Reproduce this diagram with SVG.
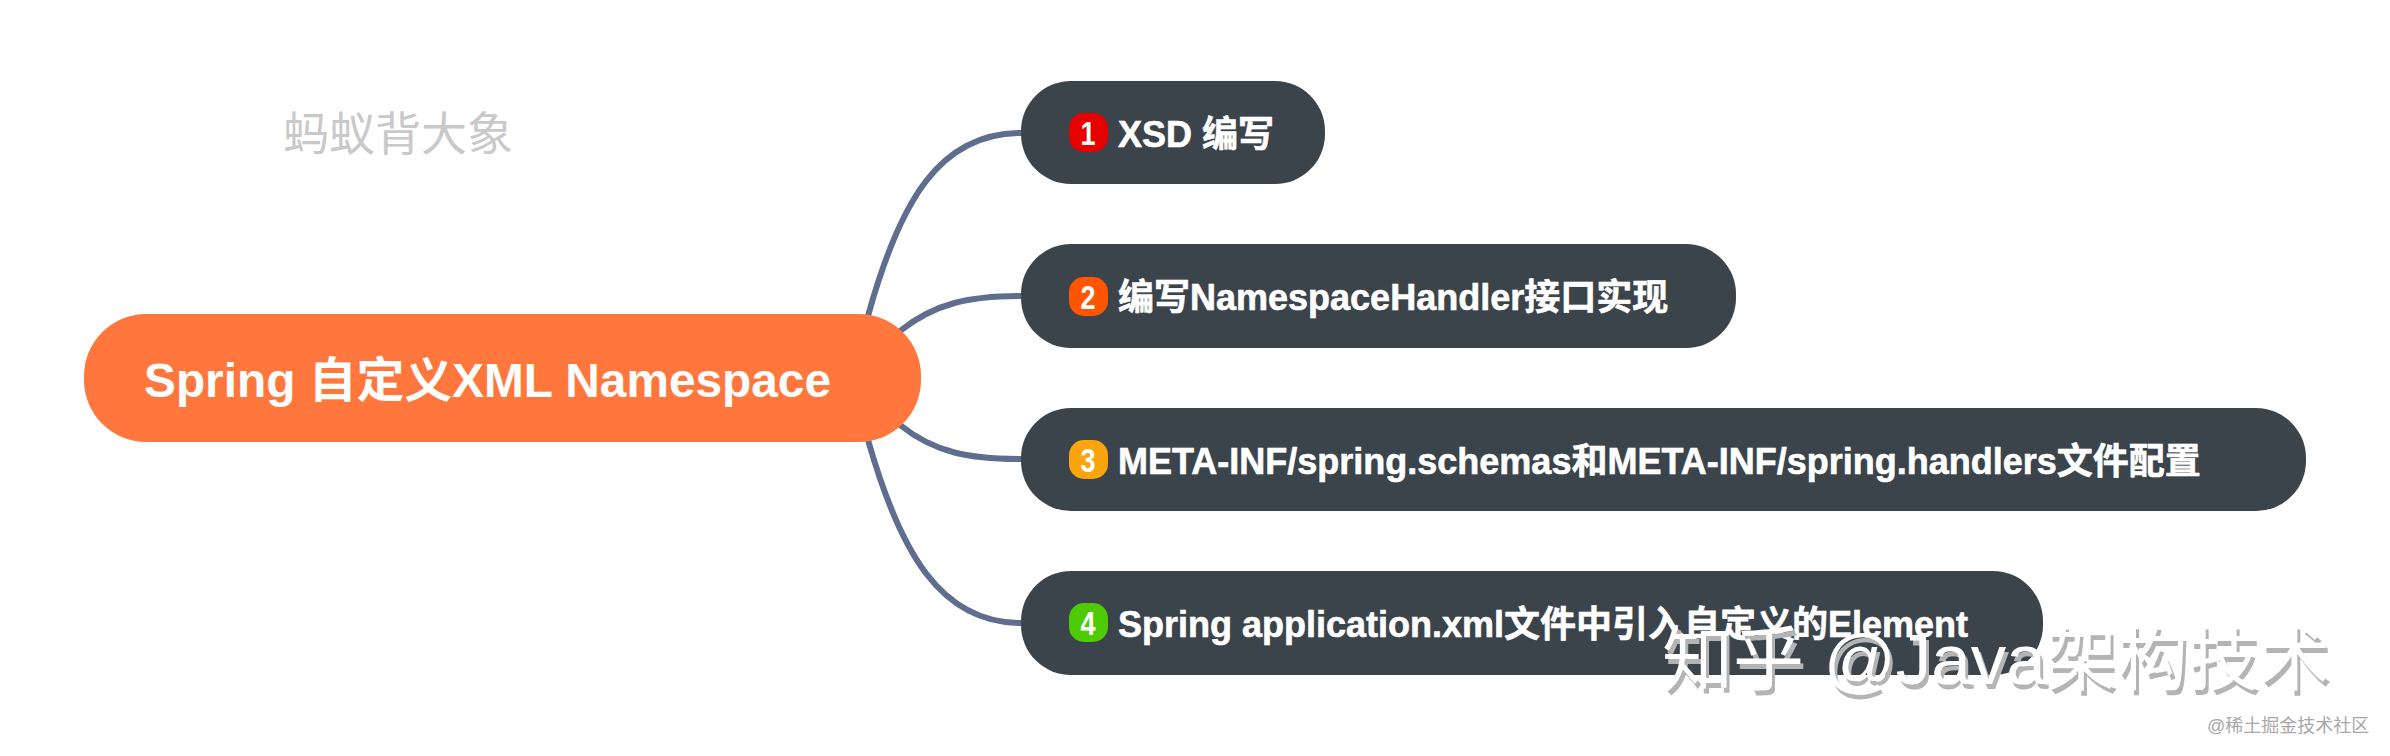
<svg xmlns="http://www.w3.org/2000/svg" width="2390" height="756" viewBox="0 0 2390 756">
<defs>
<style>
text{font-family:"Liberation Sans","Noto Sans CJK SC",sans-serif}
.c{fill:none;stroke:#5f6d8e;stroke-width:6;stroke-linecap:round}
.n{fill:#3b444b}
.t{fill:#fff;font-size:36px;font-weight:700;stroke:#fff;stroke-width:.6}
.b{fill:#fff;font-size:34px;font-weight:700;text-anchor:middle}
.w{font-size:71px}
</style>
</defs>
<rect width="2390" height="756" fill="#fff"/>
<g id="connectors">
<path class="c" d="M868 316C900 200 940 133 1021 133"/>
<path class="c" d="M900 331C935 303 970 296 1021 296"/>
<path class="c" d="M900 425C935 453 970 459 1021 459"/>
<path class="c" d="M868 440C900 552 940 623 1021 623"/>
</g>
<g id="root">
<rect x="84" y="314" width="837" height="128" rx="62" fill="#ff773d"/>
<text x="144" y="397" fill="#fff" font-size="47.8" font-weight="700">Spring 自定义XML Namespace</text>
</g>
<g id="node1">
<rect class="n" x="1021" y="81" width="304" height="103" rx="50"/>
<rect x="1069" y="113" width="39" height="39" rx="15" fill="#e60000"/>
<text class="b" x="1088" y="145" textLength="15" lengthAdjust="spacingAndGlyphs">1</text>
<text class="t" x="1118" y="147">XSD 编写</text>
</g>
<g id="node2">
<rect class="n" x="1021" y="244" width="715" height="104" rx="50"/>
<rect x="1069" y="277" width="39" height="39" rx="15" fill="#ff5500"/>
<text class="b" x="1088" y="309" textLength="15" lengthAdjust="spacingAndGlyphs">2</text>
<text class="t" x="1118" y="310">编写NamespaceHandler接口实现</text>
</g>
<g id="node3">
<rect class="n" x="1021" y="408" width="1285" height="103" rx="50"/>
<rect x="1069" y="440" width="39" height="39" rx="15" fill="#fba40e"/>
<text class="b" x="1088" y="472" textLength="15" lengthAdjust="spacingAndGlyphs">3</text>
<text class="t" x="1118" y="474">META-INF/spring.schemas和META-INF/spring.handlers文件配置</text>
</g>
<g id="node4">
<rect class="n" x="1021" y="571" width="1022" height="104" rx="50"/>
<rect x="1069" y="603" width="39" height="39" rx="15" fill="#4fcb05"/>
<text class="b" x="1088" y="635" textLength="15" lengthAdjust="spacingAndGlyphs">4</text>
<text class="t" x="1118" y="637">Spring application.xml文件中引入自定义的Element</text>
</g>
<g id="watermarks">
<text x="283" y="150" font-size="46" fill="#c9c9c9">蚂蚁背大象</text>
<text class="w" x="1665" y="689" fill="#b4b4b4">知乎 @Java架构技术</text>
<text class="w" x="1662" y="684" fill="#fff">知乎 @Java架构技术</text>
<text x="2207" y="732" font-size="18" fill="#a8a8a8">@稀土掘金技术社区</text>
</g>
</svg>
